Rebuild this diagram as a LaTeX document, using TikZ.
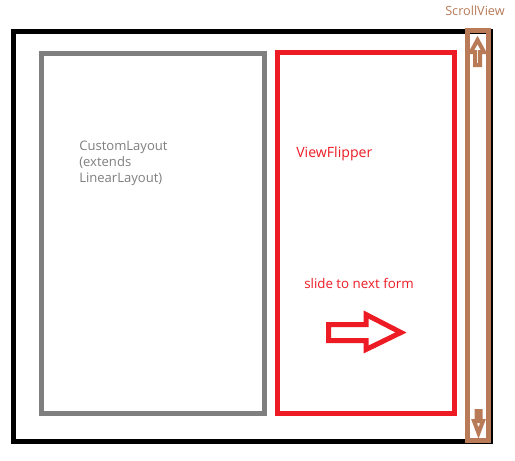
\documentclass[tikz,border=0pt]{standalone}
\usepackage{fontspec}
\setmainfont{Open Sans}
\definecolor{pred}{HTML}{ED1C24}
\definecolor{pgray}{HTML}{7F7F7F}
\definecolor{pbrown}{HTML}{B97A57}
\begin{document}
\begin{tikzpicture}[x=0.75pt,y=-0.75pt,
  frame/.style={line width=3.75pt},
  lbl/.style={anchor=base west,inner sep=0pt,font=\fontsize{9.8}{12}\selectfont},
  outlinearrow/.style={line width=3pt,line join=miter}]
\useasboundingbox[fill=white] (0,0) rectangle (515,461);
% outer black frame
\draw[frame,black] (13.5,31.5) rectangle (490,441.5);
% custom layout
\draw[frame,pgray] (41.5,53.5) rectangle (264.5,413);
% view flipper
\draw[frame,pred] (277,52.5) rectangle (454.5,413);
% scroll view
\draw[frame,pbrown] (467.5,30.5) rectangle (488.5,440.5);
% scroll arrows
\draw[outlinearrow,pbrown] (477.5,40) -- (484,52) -- (480,52) -- (480,65) -- (475,65) -- (475,52) -- (471,52) -- cycle;
\draw[outlinearrow,pbrown] (478.5,433) -- (483,421) -- (480.5,421) -- (480.5,411) -- (476.5,411) -- (476.5,421) -- (474,421) -- cycle;
% red slide arrow
\draw[line width=3.75pt,pred,line join=miter] (328.5,324.5) -- (366,324.5) -- (366,314.5) -- (401,332.5) -- (366,349.5) -- (366,340.5) -- (328.5,340.5) -- cycle;
% texts
\node[lbl,text=pbrown,font=\fontsize{9.5}{12}\selectfont] (sv) at (445,15.5) {ScrollView};
\node[lbl,text=pgray] (cl) at (79,150) {CustomLayout};
\node[lbl,text=pgray] (cl2) at (79,166) {(extends};
\node[lbl,text=pgray] (cl3) at (79,182) {LinearLayout)};
\node[lbl,text=pred,font=\fontsize{10.6}{12}\selectfont] (vf) at (296,157) {ViewFlipper};
\node[lbl,text=pred,font=\fontsize{10}{12}\selectfont] (sl) at (304,288) {slide to next form};
\end{tikzpicture}
\end{document}
